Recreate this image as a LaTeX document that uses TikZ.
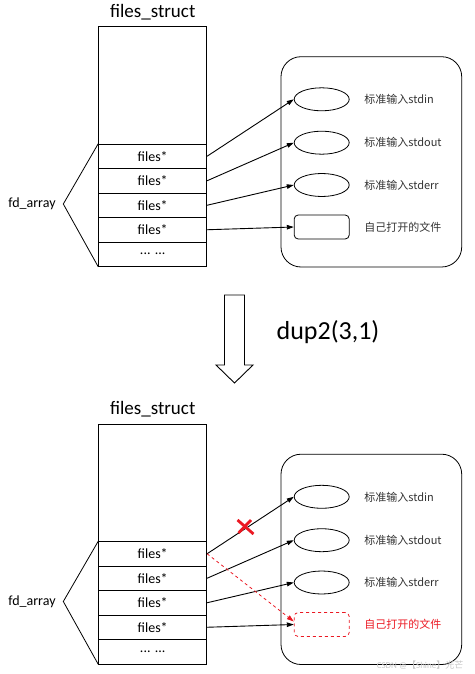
\documentclass[tikz,border=0pt]{standalone}
\usepackage{fontspec}
\setmainfont{Carlito}
\newfontfamily\cjk{Noto Sans CJK SC}
\usetikzlibrary{shapes.geometric,arrows.meta,calc}
\definecolor{xred}{RGB}{235,25,35}
\newcommand\fsdiagram{%
  \node[titletext] (title) at (152.7,12) {files\_struct};
  \node[draw,rectangle,minimum width=108pt,minimum height=117.3pt,inner sep=0pt] (head) at (152.7,85.35) {};
  \node[rowbox] (r1) at (152.7,156.25) {files*};
  \node[rowbox] (r2) at (152.7,180.75) {files*};
  \node[rowbox] (r3) at (152.7,205.25) {files*};
  \node[rowbox] (r4) at (152.7,229.75) {files*};
  \node[rowbox] (r5) at (152.7,254.25) {... ...};
  \node[font=\fontsize{14}{16}\selectfont] (fd) at (32,204) {fd\_array};
  \coordinate (apex) at (63.3,204);
  \draw[line width=0.8pt] (r1.north west) -- (apex) -- (r5.south west);
  \node[draw,line width=0.8pt,rounded corners=20pt,minimum width=180.7pt,minimum height=210.3pt,inner sep=0pt] (proc) at (371.35,161.85) {};
  \node[filebox] (e1) at (321.7,99.3) {};
  \node[filebox] (e2) at (321.7,142.7) {};
  \node[filebox] (e3) at (321.7,185) {};
  \node[lbl] (l1) at (364,99.3) {标准输入stdin};
  \node[lbl] (l2) at (364,142.7) {标准输入stdout};
  \node[lbl] (l3) at (364,185) {标准输入stderr};
}
\begin{document}
\begin{tikzpicture}[x=1pt,y=-1pt,
  titletext/.style={font=\fontsize{19}{22}\selectfont},
  rowbox/.style={draw,line width=0.8pt,rectangle,minimum width=108pt,minimum height=24.5pt,inner sep=0pt,font=\fontsize{14}{16}\selectfont},
  filebox/.style={draw,line width=0.8pt,ellipse,minimum width=55pt,minimum height=23pt,inner sep=0pt},
  ownbox/.style={draw,line width=0.8pt,rectangle,rounded corners=4pt,minimum width=55pt,minimum height=24pt,inner sep=0pt},
  lbl/.style={anchor=west,inner sep=0pt,font=\cjk\fontsize{11}{13}\selectfont,text=black!80},
  ptr/.style={-{Triangle[length=7pt,width=4.5pt]},line width=0.9pt},
  line width=0.8pt]
\useasboundingbox (0,0) rectangle (474,674);
% ---------- top diagram
\begin{scope}[name prefix=a-]
  \fsdiagram
  \node[ownbox] (own) at (321.7,227) {};
  \node[lbl] (l4) at (364,227) {自己打开的文件};
  \draw[ptr] (r1.east) -- (e1.west);
  \draw[ptr] (r2.east) -- (e2.west);
  \draw[ptr] (r3.east) -- (e3.west);
  \draw[ptr] (r4.east) -- (own.west);
\end{scope}
% ---------- transition arrow
\draw[line width=0.9pt] (224.5,295) -- (244.5,295) -- (244.5,365) -- (253,365) -- (234.5,383) -- (216,365) -- (224.5,365) -- cycle;
\node[font=\fontsize{26}{30}\selectfont] (op) at (328,332) {dup2(3,1)};
% ---------- bottom diagram
\begin{scope}[shift={(0,397.5)},name prefix=b-]
  \fsdiagram
  \node[ownbox,xred,dashed] (own) at (321.7,227) {};
  \node[lbl,text=xred] (l4) at (364,227) {自己打开的文件};
  \draw[ptr] (r1.east) -- (e1.west);
  \draw[ptr] (r2.east) -- (e2.west);
  \draw[ptr] (r3.east) -- (e3.west);
  \draw[ptr] (r4.east) -- (own.west);
  \draw[ptr,xred,dashed,line width=0.8pt] (r1.east) -- ($(own.west)+(0,-3)$);
  \draw[xred,line width=2.8pt] (237.5,122.5) -- (253.5,136.5);
  \draw[xred,line width=2.8pt] (238.5,135.5) -- (251,122.5);
\end{scope}
\node[text=black!22,font=\fontsize{9}{10}\selectfont] (wm) at (420,665) {CSDN @{\cjk 【}Shine{\cjk 】光芒}};
\end{tikzpicture}
\end{document}
